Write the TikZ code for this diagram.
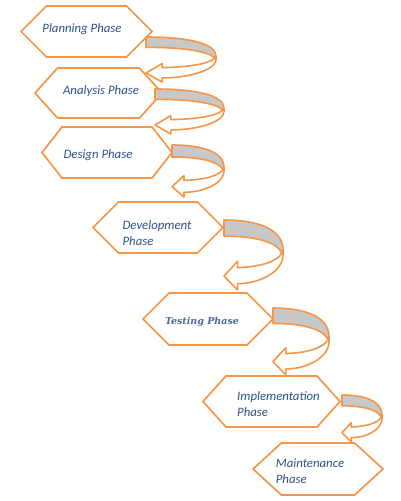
\documentclass[tikz,border=0pt]{standalone}
\usepackage{fontspec}
\setmainfont{Carlito}
\newfontfamily\testfont{DejaVu Serif}
\usetikzlibrary{shapes.symbols,calc}
\definecolor{hexorange}{HTML}{F79646}
\definecolor{bandgray}{HTML}{C8C8C8}
\definecolor{txtblue}{HTML}{2F5189}
\definecolor{testblue}{HTML}{4A6896}
\tikzset{
  hexbox/.style={shape=signal, signal to=west and east, draw=hexorange, fill=white,
    line width=1.7pt, minimum width=#1, minimum height=51pt, inner sep=0pt, outer sep=0pt},
  hextext/.style={text=txtblue, font=\fontsize{12.8}{16}\selectfont\itshape, align=left, inner sep=0pt},
  bandback/.style={draw=hexorange, fill=bandgray, line width=1.6pt, line join=round},
  bandfront/.style={draw=hexorange, fill=white, line width=1.6pt, line join=round}
}
\newcommand{\loopconn}[3]{%
  \begin{scope}[shift={#1}, xscale=#2, yscale=#3]
    \filldraw[bandback] (0,0) .. controls (0.55,0) and (1,0.12) .. (1,0.43)
      -- (0.98,0.47) .. controls (0.9,0.32) and (0.55,0.23) .. (0,0.23) -- cycle;
    \filldraw[bandfront] (1,0.43) -- (1,0.5) .. controls (1,0.74) and (0.6,0.91) .. (0.23,0.91)
      -- (0.23,1) -- (0,0.8) -- (0.23,0.59) -- (0.23,0.68)
      .. controls (0.6,0.67) and (0.9,0.6) .. (0.98,0.47) -- cycle;
  \end{scope}}
\begin{document}
\begin{tikzpicture}[x=1pt,y=-1pt]
\useasboundingbox (0,0) rectangle (400,501);
% hexagons
\node[hexbox=131pt] (h1) at (86.5,31.5) {};
\node[hexbox=127pt, minimum height=50pt, signal pointer angle=96] (h2) at (98.5,93) {};
\node[hexbox=130pt, signal pointer angle=104] (h3) at (107,152.5) {};
\node[hexbox=130pt] (h4) at (158,227.5) {};
\node[hexbox=130pt, minimum height=52pt] (h5) at (208,319) {};
\node[hexbox=137pt, signal pointer angle=96] (h6) at (271.5,401.5) {};
\node[hexbox=130pt, minimum height=52pt, signal pointer angle=85] (h7) at (318,469) {};
% texts
\node[hextext] (t1) at ($(h1.center)+(-4.5,-2.5)$) {Planning Phase};
\node[hextext] (t2) at ($(h2.center)+(2.5,-2)$) {Analysis Phase};
\node[hextext] (t3) at ($(h3.center)+(-9,2.5)$) {Design Phase};
\node[hextext] (t4) at ($(h4.center)+(-1,5.5)$) {Development\\Phase};
\begin{scope}
  \clip (0,0) rectangle (400,325.8);
  \node[text=testblue, font=\testfont\fontsize{9.5}{11}\selectfont\bfseries\itshape, inner sep=0pt, anchor=base] (t5) at ($(h5.center)+(-6,5.7)$) {Testing Phase};
\end{scope}
\node[hextext] (t6) at ($(h6.center)+(7,2.5)$) {Implementation\\Phase};
\node[hextext] (t7) at ($(h7.center)+(-8,2)$) {Maintenance\\Phase};
% curved connectors
\loopconn{($(h1.east)+(-6,5.5)$)}{70}{45}
\loopconn{($(h2.east)+(-7,-4)$)}{69}{45}
\loopconn{($(h3.east)+(0,-7.5)$)}{52}{52}
\loopconn{($(h4.east)+(1,-7.5)$)}{59}{70}
\loopconn{($(h5.east)+(0,-11)$)}{56}{67}
\loopconn{($(h6.east)+(2,-6.5)$)}{40}{47}
\end{tikzpicture}
\end{document}
